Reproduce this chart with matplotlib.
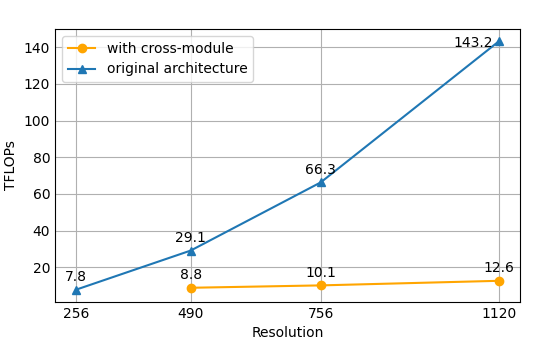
import matplotlib
matplotlib.use("Agg")
import matplotlib.pyplot as plt

res_cross = [490, 756, 1120]
tflops_cross = [8.8, 10.1, 12.6]
res_orig = [256, 490, 756, 1120]
tflops_orig = [7.8, 29.1, 66.3, 143.2]
xticks = [256, 490, 756, 1120]

fig = plt.figure(figsize=(5.46, 3.63), dpi=100)
ax = fig.add_axes([0.101, 0.168, 0.851, 0.752])
ax.plot(res_cross, tflops_cross, marker='o', color='orange', label='with cross-module')
ax.plot(res_orig, tflops_orig, marker='^', color='#1f77b4', label='original architecture')

for x, y in zip(res_cross, tflops_cross):
    ax.annotate(f"{y}", (x, y), textcoords='offset points', xytext=(0, 6), ha='center', fontsize=10)
for i, (x, y) in enumerate(zip(res_orig, tflops_orig)):
    if i == len(res_orig) - 1:
        ax.annotate(f"{y}", (x, y), textcoords='offset points', xytext=(-4, -4), ha='right', fontsize=10)
    else:
        ax.annotate(f"{y}", (x, y), textcoords='offset points', xytext=(0, 6), ha='center', fontsize=10)

ax.set_xticks(xticks)
ax.set_xticklabels([str(v) for v in xticks])
ax.set_yticks([20, 40, 60, 80, 100, 120, 140])
ax.tick_params(length=0)
ax.grid(True, color='#b0b0b0', linewidth=0.8)
ax.set_axisbelow(True)
ax.set_xlabel('Resolution')
ax.set_ylabel('TFLOPs')
ax.legend(loc='upper left')
fig.savefig('out.png', dpi=100)
